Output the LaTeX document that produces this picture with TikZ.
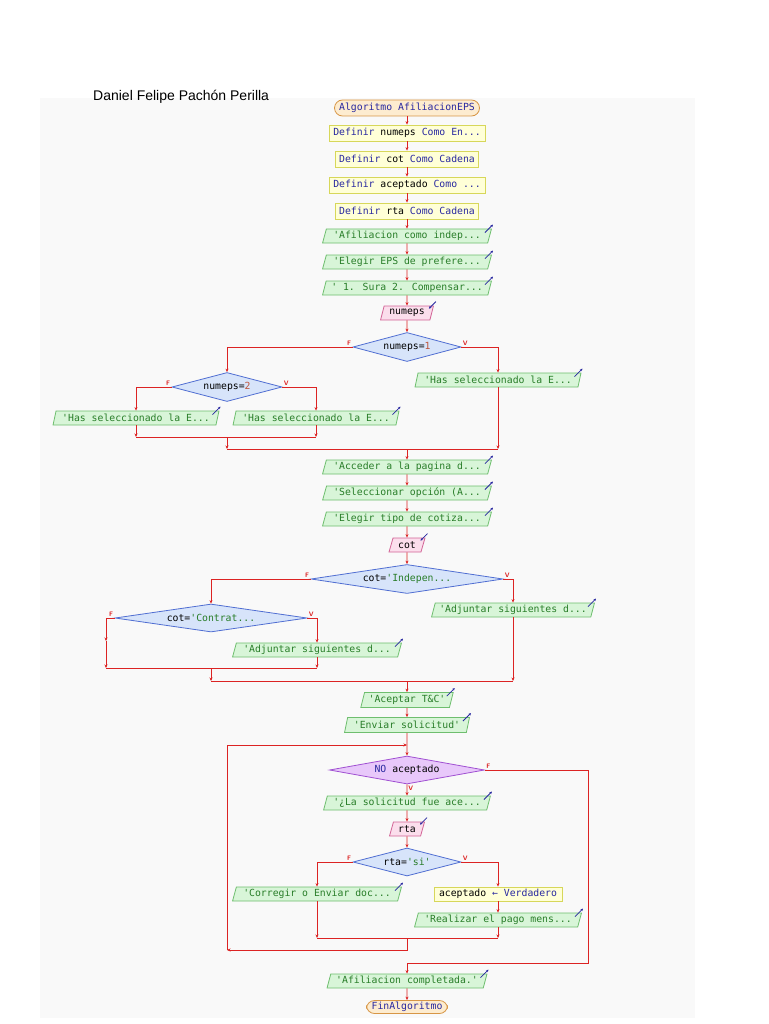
\documentclass[tikz,border=0pt]{standalone}
\usepackage{fontspec}
\setmainfont{Liberation Sans}
\newfontfamily\psfont{DejaVu Sans Mono}
\usetikzlibrary{arrows.meta, positioning, shapes.geometric}
\definecolor{rojo}{RGB}{220,35,35}
\definecolor{kwblue}{RGB}{40,40,160}
\definecolor{cadgreen}{RGB}{40,125,40}
\definecolor{numred}{RGB}{190,85,60}
\definecolor{panel}{RGB}{249,249,249}
\definecolor{inicioF}{RGB}{253,236,208}
\definecolor{inicioB}{RGB}{215,150,70}
\definecolor{defF}{RGB}{255,255,215}
\definecolor{defB}{RGB}{215,215,90}
\definecolor{salF}{RGB}{216,245,216}
\definecolor{salB}{RGB}{110,190,110}
\definecolor{entF}{RGB}{251,222,236}
\definecolor{entB}{RGB}{210,100,150}
\definecolor{condF}{RGB}{215,228,250}
\definecolor{condB}{RGB}{80,110,210}
\definecolor{mienF}{RGB}{232,200,250}
\definecolor{mienB}{RGB}{160,80,210}
\newcommand{\kwd}[1]{\textcolor{kwblue}{#1}}
\newcommand{\cad}[1]{\textcolor{cadgreen}{#1}}
\newcommand{\pnum}[1]{\textcolor{numred}{#1}}
% small blue arrows of Escribir / Leer
\newcommand{\marcasal}[1]{\draw[marca] ([shift={(-7pt,-4pt)}]#1.top right corner) -- ([shift={(1pt,4pt)}]#1.top right corner);}
\newcommand{\marcaent}[1]{\draw[marca] ([shift={(2pt,4pt)}]#1.top right corner) -- ([shift={(-5pt,-3pt)}]#1.top right corner);}

\begin{document}
\begin{tikzpicture}[x=1pt,y=-1pt,
    font=\psfont\fontsize{9.8}{11}\selectfont,
    base/.style={inner sep=0pt,line width=0.8pt,text=black},
    inicio/.style={base,draw=inicioB,fill=inicioF,rounded corners=8pt,
                   minimum height=16pt,text=kwblue},
    defbox/.style={base,rectangle,draw=defB,fill=defF,minimum height=16pt},
    salida/.style={base,trapezium,trapezium left angle=70,
                   trapezium right angle=110,trapezium stretches=true,
                   draw=salB,fill=salF,minimum height=14pt,text=cadgreen},
    entrada/.style={salida,draw=entB,fill=entF,text=black},
    cond/.style={base,diamond,shape aspect=3.7,draw=condB,fill=condF,minimum height=29pt},
    mientrasbox/.style={cond,shape aspect=5.5,draw=mienB,fill=mienF},
    flecha/.style={draw=rojo,line width=0.8pt,-{Stealth[length=3.5pt,width=3pt]}},
    linea/.style={draw=rojo,line width=0.8pt},
    lbl/.style={text=rojo,font=\sffamily\bfseries\fontsize{6.5}{7}\selectfont,inner sep=1pt},
    marca/.style={draw=kwblue,line width=0.8pt,-{Stealth[length=2.5pt,width=2.5pt]}}]
  \useasboundingbox (0,0) rectangle (768,1024);
  \fill[panel] (40,98) rectangle (695,1018);
  \node[anchor=base west,inner sep=0pt,font=\fontsize{14}{16}\selectfont] (autor) at (93,101)
    {Daniel Felipe Pachón Perilla};

  % definiciones
  \node[inicio,minimum width=145pt] (algo) at (407,108) {Algoritmo AfiliacionEPS};
  \node[defbox,minimum width=156pt] (defnum) at (407,133)
    {\kwd{Definir} numeps \kwd{Como En...}};
  \node[defbox,minimum width=143pt] (defcot) at (407,159)
    {\kwd{Definir} cot \kwd{Como Cadena}};
  \node[defbox,minimum width=156pt] (defacep) at (407,185)
    {\kwd{Definir} aceptado \kwd{Como ...}};
  \node[defbox,minimum width=143pt] (defrta) at (407,211)
    {\kwd{Definir} rta \kwd{Como Cadena}};
  \node[salida,minimum width=169pt] (out1) at (407,236) {'Afiliacion como indep...};
  \node[salida,minimum width=169pt] (out2) at (407,262) {'Elegir EPS de prefere...};
  \node[salida,minimum width=169pt] (out3) at (407,288) {' 1. Sura 2. Compensar...};
  \node[entrada,minimum width=53pt] (leenum) at (407,313) {numeps};

  % eleccion de EPS
  \node[cond,minimum width=108pt] (cond1) at (407,347) {numeps=\pnum{1}};
  \node[cond,minimum width=110pt] (cond2) at (227,387) {numeps=\pnum{2}};
  \node[salida,minimum width=166pt] (hasA) at (136,418) {'Has seleccionado la E...};
  \node[salida,minimum width=166pt] (hasB) at (316,418) {'Has seleccionado la E...};
  \node[salida,minimum width=166pt] (hasC) at (498,380) {'Has seleccionado la E...};

  \node[salida,minimum width=169pt] (out4) at (407,467) {'Acceder a la pagina d...};
  \node[salida,minimum width=169pt] (out5) at (407,493) {'Seleccionar opción (A...};
  \node[salida,minimum width=169pt] (out6) at (407,519) {'Elegir tipo de cotiza...};
  \node[entrada,minimum width=36pt] (leecot) at (407,545) {cot};

  % tipo de cotizante
  \node[cond,shape aspect=6.6,minimum width=192pt] (cond3) at (407,579) {cot=\cad{'Indepen...}};
  \node[cond,shape aspect=6.8,minimum width=192pt,minimum height=28pt] (cond4) at (211,618)
    {cot=\cad{'Contrat...}};
  \node[salida,minimum width=169pt] (adjA) at (317,650) {'Adjuntar siguientes d...};
  \node[salida,minimum width=163pt] (adjB) at (513,610) {'Adjuntar siguientes d...};

  \node[salida,minimum width=93pt,minimum height=15pt] (acept) at (407,700) {'Aceptar T\&C'};
  \node[salida,minimum width=125pt,minimum height=15pt] (enviar) at (407,725) {'Enviar solicitud'};

  % ciclo de solicitud
  \node[mientrasbox,minimum width=155pt,minimum height=28pt] (mientras) at (407,770)
    {\kwd{NO} aceptado};
  \node[salida,minimum width=167pt] (pregunta) at (407,803) {'¿La solicitud fue ace...};
  \node[entrada,minimum width=35pt] (leerta) at (407,829) {rta};
  \node[cond,minimum width=108pt,minimum height=28pt] (cond5) at (407,862) {rta=\cad{'si'}};
  \node[salida,minimum width=169pt] (corregir) at (317,894) {'Corregir o Enviar doc...};
  \node[defbox,minimum width=128pt,minimum height=14pt] (asig) at (498,894)
    {aceptado \kwd{←} \kwd{Verdadero}};
  \node[salida,minimum width=167pt] (pago) at (498,920) {'Realizar el pago mens...};

  \node[salida,minimum width=160pt] (final) at (407,981) {'Afiliacion completada.'};
  \node[inicio,minimum width=81pt,minimum height=13pt] (fin) at (407,1007) {FinAlgoritmo};

  \foreach \n in {out1,out2,out3,hasA,hasB,hasC,out4,out5,out6,adjA,adjB,
                  acept,enviar,pregunta,corregir,pago,final}
    {\marcasal{\n}}
  \foreach \n in {leenum,leecot,leerta}
    {\marcaent{\n}}

  % conectores
  \foreach \a/\b in {algo/defnum,defnum/defcot,defcot/defacep,defacep/defrta,
                     defrta/out1,out1/out2,out2/out3,out3/leenum,leenum/cond1,
                     out4/out5,out5/out6,out6/leecot,leecot/cond3,
                     acept/enviar,enviar/mientras,pregunta/leerta,leerta/cond5,
                     asig/pago,final/fin}
    {\draw[flecha] (\a) -- (\b);}

  \draw[flecha] (cond1.west) node[lbl,above left]{F} -| (cond2.north);
  \draw[flecha] (cond1.east) node[lbl,above right]{V} -| (hasC.north);
  \draw[flecha] (cond2.west) node[lbl,above left]{F} -| (hasA.north);
  \draw[flecha] (cond2.east) node[lbl,above right]{V} -| (hasB.north);
  \coordinate (j1) at (227,437);
  \coordinate (j2) at (407,449);
  \draw[flecha] (hasA.south) -- (hasA.south |- j1);
  \draw[flecha] (hasB.south) -- (hasB.south |- j1);
  \draw[linea] (hasA.south |- j1) -- (hasB.south |- j1);
  \draw[flecha] (j1) -- (j1 |- j2);
  \draw[flecha] (hasC.south) -- (hasC.south |- j2);
  \draw[linea] (j1 |- j2) -- (hasC.south |- j2);
  \draw[flecha] (j2) -- (out4);

  \draw[flecha] (cond3.west) node[lbl,above left]{F} -| (cond4.north);
  \draw[flecha] (cond3.east) node[lbl,above right]{V} -| (adjB.north);
  \draw[flecha] (cond4.east) node[lbl,above right]{V} -| (adjA.north);
  \coordinate (e1) at (106,641);
  \coordinate (j3) at (211,668);
  \coordinate (j4) at (407,681);
  \draw[flecha] (cond4.west) node[lbl,above left]{F} -| (e1);
  \draw[flecha] (e1) -- (e1 |- j3);
  \draw[flecha] (adjA.south) -- (adjA.south |- j3);
  \draw[linea] (e1 |- j3) -- (adjA.south |- j3);
  \draw[flecha] (j3) -- (j3 |- j4);
  \draw[flecha] (adjB.south) -- (adjB.south |- j4);
  \draw[linea] (j3 |- j4) -- (adjB.south |- j4);
  \draw[flecha] (j4) -- (acept);

  \draw[flecha] (mientras.south) node[lbl,below right]{V} -- (pregunta);
  \draw[flecha] (cond5.west) node[lbl,above left]{F} -| (corregir.north);
  \draw[flecha] (cond5.east) node[lbl,above right]{V} -| (asig.north);
  \coordinate (j5) at (407,938);
  \coordinate (lz) at (227,950);
  \coordinate (lp) at (407,745);
  \draw[flecha] (corregir.south) -- (corregir.south |- j5);
  \draw[flecha] (pago.south) -- (pago.south |- j5);
  \draw[linea] (corregir.south |- j5) -- (pago.south |- j5);
  \draw[flecha] (j5) |- (lz);
  \draw[flecha] (lz) |- (lp);
  \coordinate (fz) at (588,963);
  \draw[flecha] (mientras.east) node[lbl,above right]{F} -| (fz) -| (final.north);
\end{tikzpicture}
\end{document}
